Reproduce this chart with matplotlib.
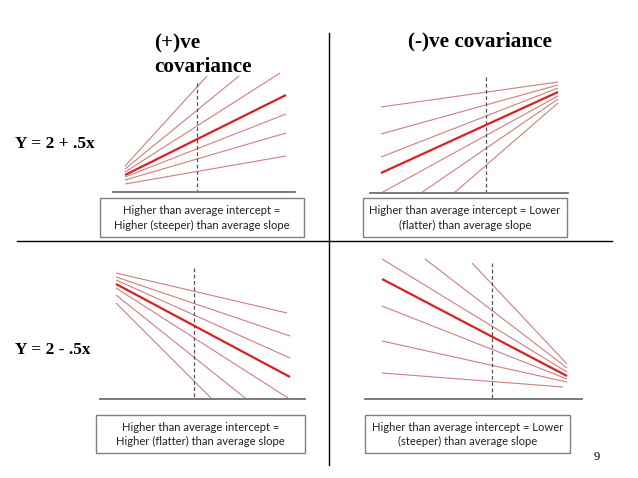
import matplotlib
matplotlib.use("Agg")
import matplotlib.pyplot as plt
from matplotlib.patches import Rectangle

# ---- data: line endpoints per panel (pixel space of the slide) ----
# each list: start x, start y, end x, end y ; index 3 is the average (bold red) line
tl_x0 = [125, 125, 125, 125, 125, 125, 125]
tl_y0 = [166, 169, 172, 175, 177, 180, 184]
tl_x1 = [207, 239, 280, 286, 286, 286, 286]
tl_y1 = [76, 76, 73, 95, 114, 133, 156]

tr_x0 = [381, 381, 381, 381, 381, 421, 454]
tr_y0 = [107, 134, 157, 173, 193, 193, 193]
tr_x1 = [558, 558, 558, 558, 558, 558, 558]
tr_y1 = [82, 85, 88, 92, 96, 99, 103]

bl_x0 = [116, 116, 116, 116, 116, 116, 116]
bl_y0 = [273, 277, 280, 284, 288, 295, 303]
bl_x1 = [287, 290, 290, 290, 288, 245, 211]
bl_y1 = [313, 336, 358, 377, 398, 398, 398]

br_x0 = [382, 425, 472, 382, 382, 382, 382]
br_y0 = [259, 259, 263, 279, 306, 341, 373]
br_x1 = [567, 567, 567, 567, 567, 567, 563]
br_y1 = [372, 368, 364, 376, 379, 382, 387]
avg_index = [3, 3, 3, 3]

# dashed mean-x markers: x, top, bottom
dash_x = [197, 486, 194, 492]
dash_top = [83, 77, 268, 263]
dash_bot = [191, 193, 398, 400]

# baselines: x start, x end, y
base_x0 = [113, 370, 100, 365]
base_x1 = [295, 568, 305, 582]
base_y = [192, 193, 399, 399]

box_texts = ["Higher than average intercept =\nHigher (steeper) than average slope",
             "Higher than average intercept = Lower\n(flatter) than average slope",
             "Higher than average intercept =\nHigher (flatter) than average slope",
             "Higher than average intercept = Lower\n(steeper) than average slope"]
box_x0 = [100, 363, 96, 365]
box_x1 = [304, 567, 305, 570]
box_y0 = [198, 198, 415, 415]
box_y1 = [237, 237, 453, 453]

fig = plt.figure(figsize=(6.38, 4.78), dpi=100)
ax = fig.add_axes([0, 0, 1, 1])
ax.set_xlim(0, 638)
ax.set_ylim(478, 0)
ax.axis("off")

thin_col = "#cf7f7f"
red_col = "#dd1f1f"

panels = [(tl_x0, tl_y0, tl_x1, tl_y1), (tr_x0, tr_y0, tr_x1, tr_y1),
          (bl_x0, bl_y0, bl_x1, bl_y1), (br_x0, br_y0, br_x1, br_y1)]
for p, (x0, y0, x1, y1) in enumerate(panels):
    for i in range(len(x0)):
        if i == avg_index[p]:
            continue
        ax.plot([x0[i], x1[i]], [y0[i], y1[i]], color=thin_col, lw=0.8,
                solid_capstyle="butt")
    k = avg_index[p]
    ax.plot([x0[k], x1[k]], [y0[k], y1[k]], color=red_col, lw=1.6,
            solid_capstyle="butt", zorder=3)
    ax.plot([dash_x[p], dash_x[p]], [dash_top[p], dash_bot[p]], color="#555555",
            lw=0.9, ls=(0, (3, 2)))
    ax.plot([base_x0[p], base_x1[p]], [base_y[p], base_y[p]], color="#707070", lw=1.3)
    ax.add_patch(Rectangle((box_x0[p], box_y0[p]), box_x1[p] - box_x0[p],
                           box_y1[p] - box_y0[p], fill=False, ec="#808080", lw=1.0))
    ax.text((box_x0[p] + box_x1[p]) / 2, (box_y0[p] + box_y1[p]) / 2 + 0.5,
            box_texts[p], ha="center", va="center", fontsize=8.1,
            family="Lato", color="#222222", linespacing=1.4)

# divider lines
ax.plot([17, 612], [241, 241], color="black", lw=1.0)
ax.plot([329, 329], [33, 465], color="black", lw=1.0)

serif = "Liberation Serif"
ax.text(154, 43, "(+)ve", fontsize=15.3, family=serif, fontweight="bold",
        ha="left", va="center")
ax.text(154, 67, "covariance", fontsize=15.3, family=serif, fontweight="bold",
        ha="left", va="center")
ax.text(480, 41, "(-)ve covariance", fontsize=15.3, family=serif, fontweight="bold",
        ha="center", va="center")
ax.text(15, 144, "Y = 2 + .5x", fontsize=12.5, family=serif, fontweight="bold",
        ha="left", va="center")
ax.text(15, 350, "Y = 2 - .5x", fontsize=12.5, family=serif, fontweight="bold",
        ha="left", va="center")
ax.text(597, 457, "9", fontsize=9, family=serif, ha="center", va="center")

fig.savefig("out.png", dpi=100)
